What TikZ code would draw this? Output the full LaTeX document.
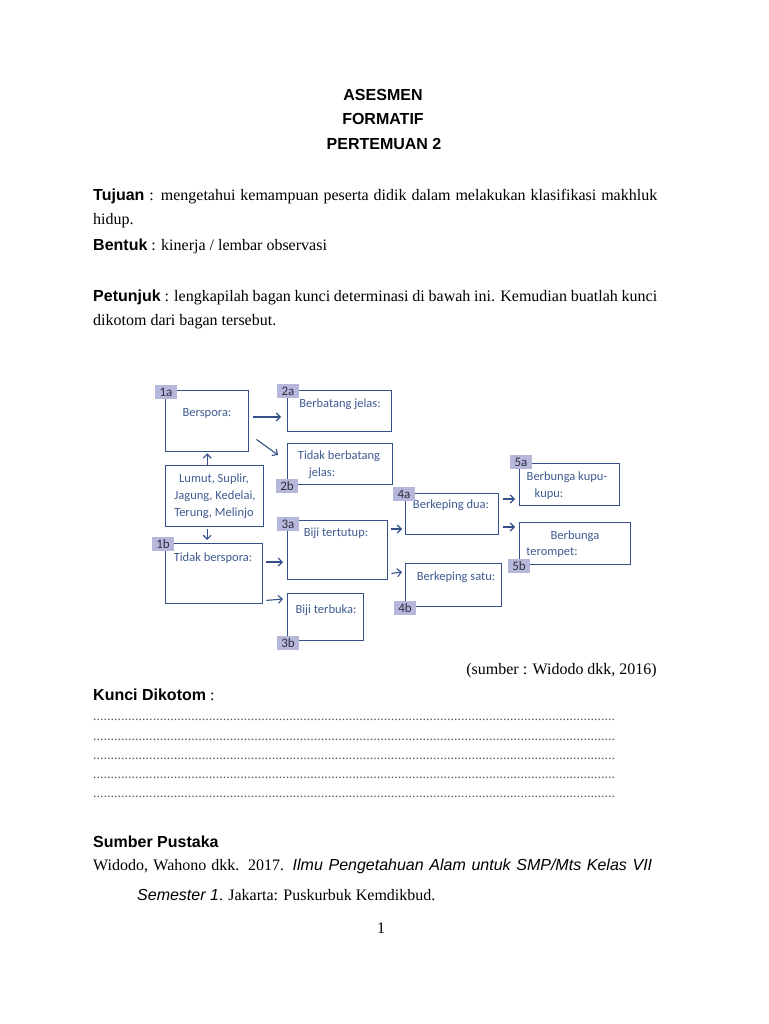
\documentclass[tikz,border=0pt]{standalone}
\usepackage{fontspec}
\setmainfont{Liberation Serif}
\setsansfont{Liberation Sans}
\newfontfamily\diagfont{Carlito}
\usetikzlibrary{arrows.meta,calc}
\definecolor{boxblue}{HTML}{34508A}
\definecolor{txtblue}{HTML}{3F5B91}
\definecolor{lav}{HTML}{B5B8DB}
\definecolor{labtxt}{HTML}{2E2E3E}
\newcommand\bsf[1]{{\sffamily\bfseries #1}}
\begin{document}
\begin{tikzpicture}[x=1pt,y=-1pt,
  box/.style={draw=boxblue, line width=1.4pt, inner sep=0pt, anchor=north west},
  lab/.style={fill=lav, minimum width=22pt, minimum height=14pt, inner sep=0pt, font=\diagfont\fontsize{13}{14}\selectfont, text=labtxt},
  dt/.style={font=\diagfont\fontsize{12.5}{14}\selectfont, text=txtblue, inner sep=0pt},
  arr/.style={draw=boxblue, line width=1.1pt, -{Straight Barb[length=4pt,width=8pt]}},
  body/.style={font=\fontsize{16}{19}\selectfont, inner sep=0pt, anchor=west},
  head/.style={font=\sffamily\bfseries\fontsize{16}{19}\selectfont, inner sep=0pt},
  dots/.style={font=\fontsize{14}{19}\selectfont, text=black!65, inner sep=0pt, anchor=west}
]
\useasboundingbox (0,0) rectangle (768,1024);
\fill[white] (0,0) rectangle (768,1024);

% headings
\node[head] (h1) at (383,95) {ASESMEN};
\node[head] (h2) at (383,119) {FORMATIF};
\node[head] (h3) at (384,144) {PERTEMUAN 2};

\node[body] (p1) at (93,196) {\makebox[564pt][s]{\bsf{Tujuan} : mengetahui kemampuan peserta didik dalam melakukan klasifikasi makhluk}};
\node[body] (p2) at (93,221) {hidup.};
\node[body] (p3) at (93,246) {\bsf{Bentuk} : kinerja / lembar observasi};
\node[body] (p4) at (93,297) {\makebox[564pt][s]{\bsf{Petunjuk} : lengkapilah bagan kunci determinasi di bawah ini. Kemudian buatlah kunci}};
\node[body] (p5) at (93,322) {dikotom dari bagan tersebut.};

% diagram boxes
\node[box, minimum width=83pt, minimum height=61pt] (b1a) at (165,390) {};
\node[box, minimum width=104pt, minimum height=41pt] (b2a) at (287,390) {};
\node[box, minimum width=105pt, minimum height=41pt] (b2b) at (287,443) {};
\node[box, minimum width=98pt, minimum height=61pt] (bL) at (165,465) {};
\node[box, minimum width=97pt, minimum height=60pt] (b1b) at (165,543) {};
\node[box, minimum width=100pt, minimum height=59pt] (b3a) at (287,520) {};
\node[box, minimum width=76pt, minimum height=47pt] (b3b) at (287,593) {};
\node[box, minimum width=93pt, minimum height=41pt] (b4a) at (405,493) {};
\node[box, minimum width=96pt, minimum height=43pt] (b4b) at (405,563) {};
\node[box, minimum width=100pt, minimum height=42pt] (b5a) at (519,463) {};
\node[box, minimum width=111pt, minimum height=42pt] (b5b) at (519,522) {};

% box texts
\node[dt] (t1a) at (207,413) {Berspora:};
\node[dt] (t2a) at (340,404) {Berbatang jelas:};
\node[dt] (t2b1) at (339,456) {Tidak berbatang};
\node[dt] (t2b2) at (322,473) {jelas:};
\node[dt] (tL1) at (214,479) {Lumut, Suplir,};
\node[dt] (tL2) at (215,496) {Jagung, Kedelai,};
\node[dt] (tL3) at (214,513) {Terung, Melinjo};
\node[dt] (t1b) at (213,558) {Tidak berspora:};
\node[dt] (t3a) at (336,533) {Biji tertutup:};
\node[dt] (t3b) at (326,610) {Biji terbuka:};
\node[dt] (t4a) at (451,505) {Berkeping dua:};
\node[dt] (t4b) at (456,577) {Berkeping satu:};
\node[dt] (t5a1) at (567,477) {Berbunga kupu-};
\node[dt] (t5a2) at (549,494) {kupu:};
\node[dt] (t5b1) at (575,536) {Berbunga};
\node[dt] (t5b2) at (552,553) {terompet:};

% labels
\node[lab] (l1a) at (166,392) {1a};
\node[lab] (l2a) at (288,391) {2a};
\node[lab] (l2b) at (287,486) {2b};
\node[lab] (l1b) at (163,544) {1b};
\node[lab] (l3a) at (288,524) {3a};
\node[lab] (l3b) at (288,643) {3b};
\node[lab] (l4a) at (404,494) {4a};
\node[lab] (l4b) at (405,608) {4b};
\node[lab] (l5a) at (521,462) {5a};
\node[lab] (l5b) at (519,566) {5b};

% arrows
\draw[arr] ([shift={(4,27)}]b1a.north east) -- ([shift={(-6,27)}]b2a.north west);
\draw[arr] ([shift={(7,-13)}]b1a.south east) -- ([shift={(-9,12)}]b2b.north west);
\draw[arr] (b1a.south |- bL.north) -- ([yshift=-1pt]b1a.south |- b1a.south);
\draw[arr] ([yshift=-2pt]b1a.south |- bL.south) -- ([shift={(0,-3)}]b1a.south |- b1b.north);
\draw[arr] ([shift={(3,19)}]b1b.north east) -- ([shift={(-4,42)}]b3a.north west);
\draw[arr] ([shift={(3,-4)}]b1b.south east) -- ([shift={(-4,6)}]b3b.north west);
\draw[arr] ([shift={(3,9)}]b3a.north east) -- ([shift={(-3,36)}]b4a.north west);
\draw[arr] ([shift={(3,-7)}]b3a.south east) -- ([shift={(-3,9)}]b4b.north west);
\draw[arr] ([shift={(4,6)}]b4a.north east) -- ([shift={(-4,36)}]b5a.north west);
\draw[arr] ([shift={(4,34)}]b4a.north east) -- ([shift={(-4,5)}]b5b.north west);

% below diagram
\node[body, anchor=east] (src) at (657,671) {(sumber : Widodo dkk, 2016)};
\node[body] (kd) at (93,695) {\bsf{Kunci Dikotom} :};
\node[dots] (d1) at (93,720) {\makebox[522pt]{\xleaders\hbox{.}\hfill}};
\node[dots] (d2) at (93,740) {\makebox[522pt]{\xleaders\hbox{.}\hfill}};
\node[dots] (d3) at (93,759) {\makebox[522pt]{\xleaders\hbox{.}\hfill}};
\node[dots] (d4) at (93,778) {\makebox[522pt]{\xleaders\hbox{.}\hfill}};
\node[dots] (d5) at (93,797) {\makebox[522pt]{\xleaders\hbox{.}\hfill}};
\node[body] (sp) at (93,842) {\bsf{Sumber Pustaka}};
\node[body] (r1) at (93,866) {\makebox[559pt][s]{Widodo, Wahono dkk. 2017. {\sffamily\itshape Ilmu Pengetahuan Alam untuk SMP/Mts Kelas VII}}};
\node[body] (r2) at (137,895) {{\sffamily\itshape Semester 1}. Jakarta: Puskurbuk Kemdikbud.};
\node[body, anchor=center] (pg) at (381,928) {1};
\end{tikzpicture}
\end{document}
